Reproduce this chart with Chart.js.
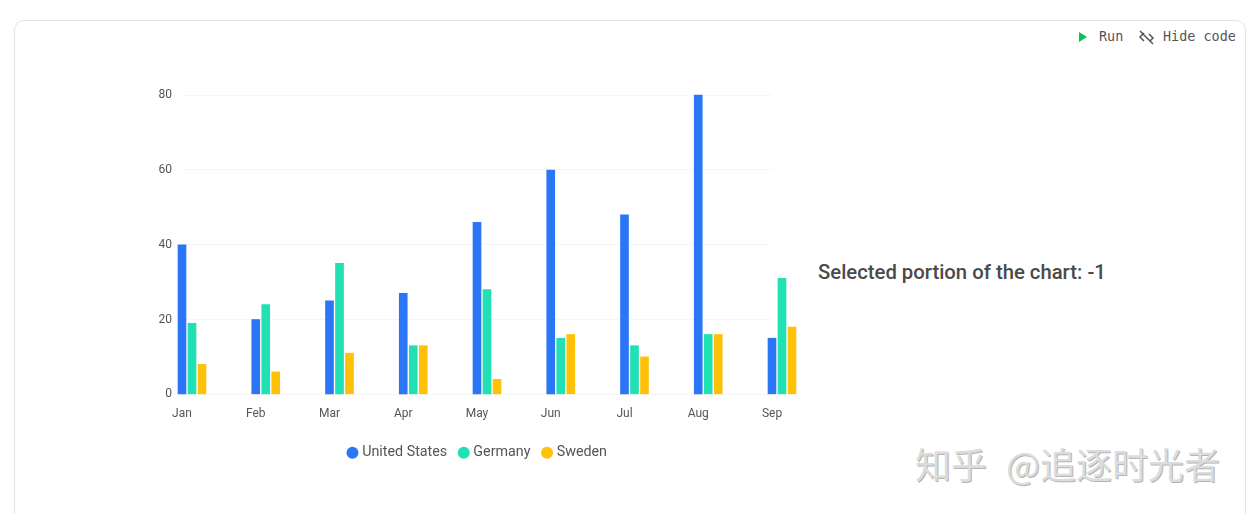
<!DOCTYPE html>
<html><head><meta charset="utf-8">
<script src="https://cdn.jsdelivr.net/npm/chart.js@4"></script>
<style>
html,body{margin:0;padding:0;background:#fff;width:1251px;height:514px;overflow:hidden;font-family:Roboto,sans-serif}
#card{position:absolute;left:14px;top:20px;width:1230px;height:520px;border:1px solid #e2e2e2;border-radius:10px;box-sizing:content-box}
#wrap{position:absolute;left:155px;top:78px;width:647px;height:400px}
#sel{position:absolute;left:818px;top:260px;font:500 20.3px Roboto,sans-serif;color:#4a4a4a;white-space:nowrap;line-height:24px}
.code{position:absolute;top:29px;font:13.45px "DejaVu Sans Mono",monospace;color:#555;line-height:16px;white-space:pre}
svg{position:absolute}
#wm{position:absolute;left:915px;top:438px;font:36px "Noto Sans CJK SC",sans-serif;color:#dcdcdc;white-space:pre;line-height:50px;text-shadow:1px 1px 0 #b4b4b4;word-spacing:11px}
</style></head><body>
<div id="card"></div>
<svg style="left:1077px;top:30px" width="12" height="14" viewBox="0 0 12 14"><path d="M2 2 L10 7 L2 12Z" fill="#0bc15c"/></svg>
<div class="code" style="left:1099px">Run</div>
<svg style="left:1138px;top:29px" width="17" height="17" viewBox="0 0 17 17"><path d="M2 2 L15 15 M6 4 L2 8 L6 12 M11 5 L15 9 L12 12" fill="none" stroke="#555" stroke-width="1.5"/></svg>
<div class="code" style="left:1163px">Hide code</div>
<div id="wrap"><canvas id="c"></canvas></div>
<div id="sel">Selected portion of the chart: -1</div>
<div id="wm">知乎 @追逐时光者</div>
<script>
const categories=['Jan','Feb','Mar','Apr','May','Jun','Jul','Aug','Sep'];
const unitedStates=[40,20,25,27,46,60,48,80,15];
const germany=[19,24,35,13,28,15,13,16,31];
const sweden=[8,6,11,13,4,16,10,16,18];
const yTicks=[0,20,40,60,80];
const shift={id:'shift',
 beforeDatasetDraw(ch,a){ch.ctx.save();ch.ctx.translate(a.index*10,0);},
 afterDatasetDraw(ch){ch.ctx.restore();}};
const ds=(label,data,color)=>({label,data,backgroundColor:color,borderWidth:0,barThickness:8,grouped:false,clip:false});
new Chart(document.getElementById('c'),{type:'bar',plugins:[shift],
 data:{labels:categories,datasets:[ds('United States',unitedStates,'#2b76f6'),ds('Germany',germany,'#20e0b4'),ds('Sweden',sweden,'#ffc107')]},
 options:{responsive:true,maintainAspectRatio:false,animation:false,
  layout:{padding:{top:3,right:0,left:0,bottom:8}},
  plugins:{tooltip:{enabled:false},legend:{position:'bottom',labels:{usePointStyle:true,pointStyle:'circle',boxWidth:5,boxHeight:8.5,padding:14,color:'#555',font:{family:'Roboto',size:14.3}}}},
  scales:{
   x:{offset:false,grid:{display:false},border:{display:false},
      afterFit(s){s.paddingRight=30;s.height+=7;},
      ticks:{color:'#555',font:{family:'Roboto',size:12},padding:4,maxRotation:0,autoSkip:false,align:'center'}},
   y:{min:0,max:80,afterBuildTicks(s){s.ticks=yTicks.map(v=>({value:v}));},
      afterFit(s){s.width=27;},
      grid:{color:'#f6f6f6',drawTicks:false},border:{display:false},
      ticks:{color:'#555',font:{family:'Roboto',size:12},padding:10}}
  }}});
</script></body></html>
